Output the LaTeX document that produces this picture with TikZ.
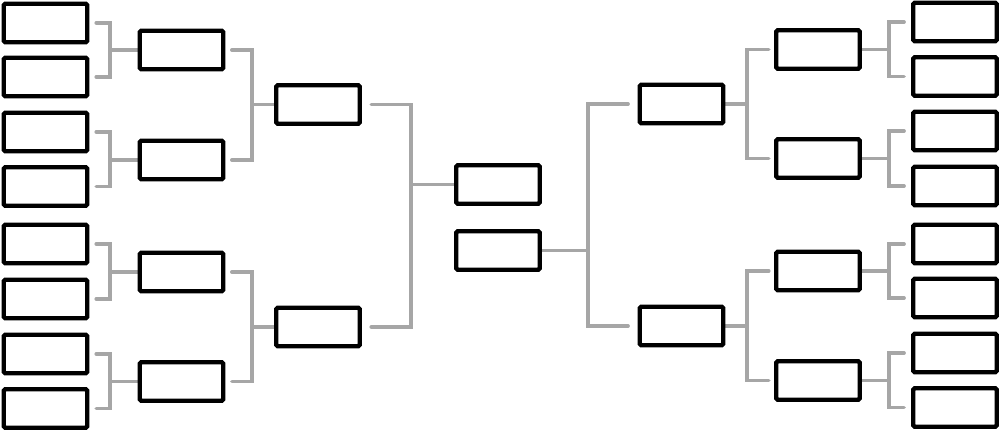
\documentclass[tikz,border=0pt]{standalone}
\usetikzlibrary{backgrounds}
\begin{document}
\begin{tikzpicture}[x=1pt,y=-1pt,
  slot/.style={draw=black,line width=4.4pt,rounded corners=1.5pt,fill=white,
    minimum width=83.5pt,minimum height=38.5pt,inner sep=0pt,outer sep=0pt},
  conn/.style={draw=linegray,line width=3.6pt,line cap=round,line join=miter},
  feed/.style={draw=linegray,line width=3.6pt,line cap=butt}]
\definecolor{linegray}{RGB}{166,166,166}
\useasboundingbox (0,0) rectangle (1000,431);
% left round 1
\node[slot] (la1) at (45.5,23) {};
\node[slot] (la2) at (45.5,77) {};
\node[slot] (la3) at (45.5,132) {};
\node[slot] (la4) at (45.5,186.5) {};
\node[slot] (la5) at (45.5,244) {};
\node[slot] (la6) at (45.5,299) {};
\node[slot] (la7) at (45.5,354) {};
\node[slot] (la8) at (45.5,408.5) {};
% left round 2
\node[slot] (lb1) at (181.5,50) {};
\node[slot] (lb2) at (181.5,160) {};
\node[slot] (lb3) at (181.5,272) {};
\node[slot] (lb4) at (181.5,381.5) {};
% left round 3
\node[slot] (lc1) at (318,104.5) {};
\node[slot] (lc2) at (318,327) {};
% centre
\node[slot] (fa) at (498,184.5) {};
\node[slot] (fb) at (498,250.5) {};
% right round 3
\node[slot] (rc1) at (681.5,104) {};
\node[slot] (rc2) at (681.5,326) {};
% right round 2
\node[slot] (rb1) at (818,49.5) {};
\node[slot] (rb2) at (818,158.5) {};
\node[slot] (rb3) at (818,271) {};
\node[slot] (rb4) at (818,380.5) {};
% right round 1
\node[slot] (ra1) at (955,22) {};
\node[slot] (ra2) at (955,76.5) {};
\node[slot] (ra3) at (955,131) {};
\node[slot] (ra4) at (955,186) {};
\node[slot] (ra5) at (955,244) {};
\node[slot] (ra6) at (955,298) {};
\node[slot] (ra7) at (955,353) {};
\node[slot] (ra8) at (955,407.5) {};
\begin{scope}[on background layer]
% left connectors round 1 -> 2
\foreach \a/\b/\m in {la1/la2/lb1,la3/la4/lb2,la5/la6/lb3,la7/la8/lb4}{
  \draw[conn] ([xshift=9pt]\a.east) -- ++(13.45pt,0) |- ([xshift=9pt]\b.east);
  \draw[feed] (\m.west) -- ++(-30.05pt,0);
}
% left round 2 -> 3
\foreach \a/\b/\m in {lb1/lb2/lc1,lb3/lb4/lc2}{
  \draw[conn] ([xshift=8.6pt]\a.east) -- ++(19.95pt,0) |- ([xshift=8.6pt]\b.east);
  \draw[feed] (\m.west) -- ++(-24.45pt,0);
}
% left round 3 -> final
\draw[conn] ([xshift=11.5pt]lc1.east) -- ++(39.55pt,0) |- ([xshift=11.5pt]lc2.east);
\draw[feed] (fa.west) -- ++(-45.45pt,0);
% right final -> round 3
\draw[feed] (fb.east) -- ++(48.45pt,0);
\draw[conn] ([xshift=-11.7pt]rc1.west) -- ++(-39.85pt,0) |- ([xshift=-11.7pt]rc2.west);
% right round 3 -> 2
\foreach \a/\b/\m in {rb1/rb2/rc1,rb3/rb4/rc2}{
  \draw[conn] ([xshift=-7.5pt]\a.west) -- ++(-21.95pt,0) |- ([xshift=-7.5pt]\b.west);
  \draw[feed] (\m.east) -- ++(23.55pt,0);
}
% right round 2 -> 1
\foreach \a/\b/\m in {ra1/ra2/rb1,ra3/ra4/rb2,ra5/ra6/rb3,ra7/ra8/rb4}{
  \draw[conn] ([xshift=-9.2pt]\a.west) -- ++(-14.85pt,0) |- ([xshift=-9.2pt]\b.west);
  \draw[feed] (\m.east) -- ++(29.45pt,0);
}
\end{scope}
\end{tikzpicture}
\end{document}
